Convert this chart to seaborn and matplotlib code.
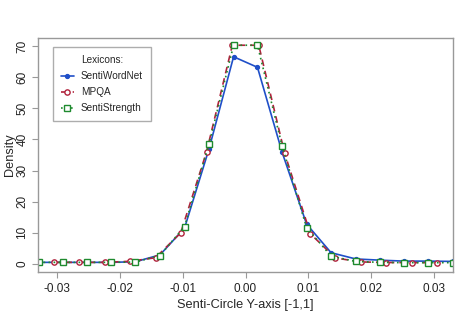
import pandas as pd
import matplotlib
matplotlib.use('Agg')
import matplotlib.pyplot as plt
import seaborn as sns

# x positions (SentiWordNet and SentiStrength share a grid)
x_grid = [-0.0329, -0.0290, -0.0252, -0.0214, -0.0175, -0.0136, -0.0097, -0.0058, -0.0019,
          0.0019, 0.0058, 0.0097, 0.0136, 0.0175, 0.0214, 0.0252, 0.0290, 0.0329]
x_mpqa = [-0.0305, -0.0264, -0.0224, -0.0183, -0.0143, -0.0103, -0.0062, -0.0021,
          0.0021, 0.0062, 0.0103, 0.0143, 0.0183, 0.0224, 0.0264, 0.0305]

senti_wordnet = [0.5, 0.5, 0.5, 0.5, 0.7, 2.9, 11.5, 37.0, 66.6,
                 63.2, 36.0, 12.8, 3.6, 1.6, 1.2, 0.9, 0.9, 0.8]
mpqa = [0.5, 0.5, 0.5, 0.85, 2.0, 10.0, 36.0, 70.3,
        70.3, 35.7, 9.7, 1.9, 0.64, 0.45, 0.4, 0.4]
senti_strength = [0.5, 0.5, 0.5, 0.5, 0.6, 2.7, 12.0, 38.6, 70.3,
                  70.3, 38.0, 11.7, 2.5, 0.8, 0.5, 0.4, 0.4, 0.4]

y_ticks = [0, 10, 20, 30, 40, 50, 60, 70]
x_ticks = [-0.03, -0.02, -0.01, 0.00, 0.01, 0.02, 0.03]
x_tick_labels = ['-0.03', '-0.02', '-0.01', '0.00', '0.01', '0.02', '0.03']

sns.set_style('white')
plt.rcParams['font.family'] = ['Liberation Sans', 'DejaVu Sans']

fig = plt.figure(figsize=(4.74, 3.2), dpi=100)
ax = fig.add_axes([0.080, 0.15, 0.876, 0.731])

series = [
    ('SentiWordNet', x_grid, senti_wordnet, '#1f4fc8', '-', 'o', 2.8, True),
    ('MPQA', x_mpqa, mpqa, '#b0223c', (0, (4, 3)), 'o', 3.8, False),
    ('SentiStrength', x_grid, senti_strength, '#1e8a2e', (0, (1, 2)), 's', 3.8, False),
]

for name, xs, ys, col, ls, mk, ms, filled in series:
    df = pd.DataFrame({'x': xs, 'y': ys})
    sns.lineplot(data=df, x='x', y='y', ax=ax, color=col, linestyle=ls, lw=1.2,
                 marker=mk, markersize=ms, markeredgecolor=col, markeredgewidth=1.0,
                 markerfacecolor=col if filled else 'white', label=name)

ax.set_xlim(-0.033, 0.033)
ax.set_ylim(-2.6, 72.6)
ax.set_xticks(x_ticks)
ax.set_xticklabels(x_tick_labels)
ax.set_yticks(y_ticks)
ax.set_yticklabels([str(v) for v in y_ticks], rotation=90, va='center')

for s in ax.spines.values():
    s.set_color('#999999')
    s.set_linewidth(1.0)
ax.tick_params(axis='both', length=4, width=0.8, color='#999999', labelsize=8.5,
               colors='#222222', direction='out', bottom=True, left=True)
ax.tick_params(axis='x', pad=4)
ax.tick_params(axis='y', pad=3)

ax.set_xlabel('Senti-Circle Y-axis [-1,1]', fontsize=9.2)
ax.set_ylabel('Density', fontsize=9.2)
ax.xaxis.set_label_coords(0.5, -0.115)
ax.yaxis.set_label_coords(-0.052, 0.5)

leg = ax.legend(title='Lexicons:', loc='upper left', bbox_to_anchor=(0.036, 0.96),
                borderaxespad=0, fontsize=7.2, title_fontsize=7.2, frameon=True,
                fancybox=False, handlelength=1.3, handletextpad=0.7, borderpad=0.8,
                labelspacing=0.6)
leg.get_frame().set_edgecolor('#999999')
leg.get_frame().set_linewidth(1.0)

fig.savefig('out.png', dpi=100)
